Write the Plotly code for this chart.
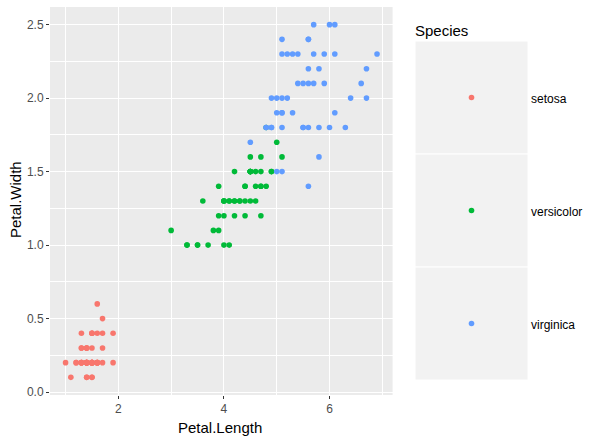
import plotly.graph_objects as go

species = ["setosa", "versicolor", "virginica"]
colors = ["#F8766D", "#00BA38", "#619CFF"]

setosa_len = [1.4,1.4,1.3,1.5,1.4,1.7,1.4,1.5,1.4,1.5,1.5,1.6,1.4,1.1,1.2,1.5,1.3,1.4,1.7,1.5,
              1.7,1.5,1.0,1.7,1.9,1.6,1.6,1.5,1.4,1.6,1.6,1.5,1.5,1.4,1.5,1.2,1.3,1.4,1.3,1.5,
              1.3,1.3,1.3,1.6,1.9,1.4,1.6,1.4,1.5,1.4]
setosa_wid = [0.2,0.2,0.2,0.2,0.2,0.4,0.3,0.2,0.2,0.1,0.2,0.2,0.1,0.1,0.2,0.4,0.4,0.3,0.3,0.3,
              0.2,0.4,0.2,0.5,0.2,0.2,0.4,0.2,0.2,0.2,0.2,0.4,0.1,0.2,0.2,0.2,0.2,0.1,0.2,0.2,
              0.3,0.3,0.2,0.6,0.4,0.3,0.2,0.2,0.2,0.2]
versicolor_len = [4.7,4.5,4.9,4.0,4.6,4.5,4.7,3.3,4.6,3.9,3.5,4.2,4.0,4.7,3.6,4.4,4.5,4.1,4.5,3.9,
                  4.8,4.0,4.9,4.7,4.3,4.4,4.8,5.0,4.5,3.5,3.8,3.7,3.9,5.1,4.5,4.5,4.7,4.4,4.1,4.0,
                  4.4,4.6,4.0,3.3,4.2,4.2,4.2,4.3,3.0,4.1]
versicolor_wid = [1.4,1.5,1.5,1.3,1.5,1.3,1.6,1.0,1.3,1.4,1.0,1.5,1.0,1.4,1.3,1.4,1.5,1.0,1.5,1.1,
                  1.8,1.3,1.5,1.2,1.3,1.4,1.4,1.7,1.5,1.0,1.1,1.0,1.2,1.6,1.5,1.6,1.5,1.3,1.3,1.3,
                  1.2,1.4,1.2,1.0,1.3,1.2,1.3,1.3,1.1,1.3]
virginica_len = [6.0,5.1,5.9,5.6,5.8,6.6,4.5,6.3,5.8,6.1,5.1,5.3,5.5,5.0,5.1,5.3,5.5,6.7,6.9,5.0,
                 5.7,4.9,6.7,4.9,5.7,6.0,4.8,4.9,5.6,5.8,6.1,6.4,5.6,5.1,5.6,6.1,5.6,5.5,4.8,5.4,
                 5.6,5.1,5.1,5.9,5.7,5.2,5.0,5.2,5.4,5.1]
virginica_wid = [2.5,1.9,2.1,1.8,2.2,2.1,1.7,1.8,1.8,2.5,2.0,1.9,2.1,2.0,2.4,2.3,1.8,2.2,2.3,1.5,
                 2.3,2.0,2.0,1.8,2.1,1.8,1.8,1.8,2.1,1.6,1.9,2.0,2.2,1.5,1.4,2.3,2.4,1.8,1.8,2.1,
                 2.4,2.3,1.9,2.3,2.5,2.3,1.9,2.0,2.3,1.8]

x_ticks = [2, 4, 6]
y_ticks = [0.0, 0.5, 1.0, 1.5, 2.0, 2.5]
y_tick_text = ["0.0", "0.5", "1.0", "1.5", "2.0", "2.5"]

lens = [setosa_len, versicolor_len, virginica_len]
wids = [setosa_wid, versicolor_wid, virginica_wid]

W, H = 599, 442
ml, mr, mt, mb = 50, 10, 7, 47
pw = W - ml - mr
ph = H - mt - mb
def px_x(p): return (p - ml) / pw
def px_y(p): return (H - mb - p) / ph

FONT = "Liberation Sans, Arial, sans-serif"

fig = go.Figure()
for s, c, xl, yw in zip(species, colors, lens, wids):
    fig.add_trace(go.Scatter(x=xl, y=yw, mode="markers", name=s,
                             marker=dict(color=c, size=5.6, line=dict(width=0)),
                             xaxis="x", yaxis="y", showlegend=False))

# legend keys drawn in a second axis
key_top, key_bot = 41, 380
key_h = (key_bot - key_top) / 3
for i, (s, c) in enumerate(zip(species, colors)):
    yc = 2 - i + 0.5
    fig.add_trace(go.Scatter(x=[0.5], y=[yc], mode="markers",
                             marker=dict(color=c, size=5.6, line=dict(width=0)),
                             xaxis="x2", yaxis="y2", showlegend=False, hoverinfo="skip"))
    fig.add_shape(type="rect", xref="x2", yref="y2", x0=0, x1=1, y0=2 - i, y1=3 - i,
                  fillcolor="#F2F2F2", line=dict(color="white", width=1), layer="below")
    fig.add_annotation(xref="paper", yref="paper", x=px_x(529),
                       y=px_y(key_top + key_h * (i + 0.5) + 1), text=s, showarrow=False,
                       xanchor="left", yanchor="middle",
                       font=dict(family=FONT, size=12, color="black"))

fig.add_annotation(xref="paper", yref="paper", x=px_x(413), y=px_y(30), text="Species",
                   showarrow=False, xanchor="left", yanchor="middle",
                   font=dict(family=FONT, size=15, color="black"))
fig.add_annotation(xref="paper", yref="paper", x=px_x(220), y=px_y(428), text="Petal.Length",
                   showarrow=False, xanchor="center", yanchor="middle",
                   font=dict(family=FONT, size=15, color="black"))
fig.add_annotation(xref="paper", yref="paper", x=px_x(15), y=px_y(200), text="Petal.Width",
                   showarrow=False, xanchor="center", yanchor="middle", textangle=-90,
                   font=dict(family=FONT, size=15, color="black"))

main_right = 392.6
fig.update_layout(
    width=W, height=H, margin=dict(l=ml, r=mr, t=mt, b=mb),
    paper_bgcolor="white", plot_bgcolor="#EBEBEB",
    xaxis=dict(domain=[0, px_x(main_right)], range=[0.705, 7.195],
               tickvals=x_ticks, ticktext=[str(v) for v in x_ticks],
               showgrid=True, gridcolor="white", gridwidth=1.1, zeroline=False,
               ticks="outside", ticklen=3, tickcolor="#333333", tickwidth=1,
               tickfont=dict(family=FONT, size=12, color="#4D4D4D"),
               minor=dict(tickvals=[1, 3, 5, 7], showgrid=True, gridcolor="white", gridwidth=0.55, ticks=""),
               showline=False, fixedrange=True),
    yaxis=dict(domain=[0, 1], range=[-0.02, 2.62],
               tickvals=y_ticks, ticktext=y_tick_text,
               showgrid=True, gridcolor="white", gridwidth=1.1, zeroline=False,
               ticks="outside", ticklen=3, tickcolor="#333333", tickwidth=1,
               tickfont=dict(family=FONT, size=12, color="#4D4D4D"),
               minor=dict(tickvals=[0.25, 0.75, 1.25, 1.75, 2.25], showgrid=True, gridcolor="white", gridwidth=0.55, ticks=""),
               showline=False, fixedrange=True),
    xaxis2=dict(domain=[px_x(415), px_x(528)], range=[0, 1], visible=False, anchor="y2", fixedrange=True),
    yaxis2=dict(domain=[px_y(key_bot), px_y(key_top)], range=[0, 3], visible=False, anchor="x2", fixedrange=True),
    showlegend=False,
)

fig.write_html("out.html")
